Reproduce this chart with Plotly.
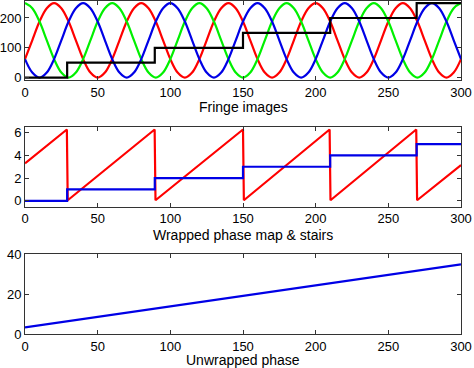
import plotly.graph_objects as go

# ---------------- data ----------------
x_samples = list(range(0, 301, 5))
fringe_red = [62,125,188,233,250,233,188,125,62,17,0,17,
              62,125,188,233,250,233,188,125,62,17,0,17,
              62,125,188,233,250,233,188,125,62,17,0,17,
              62,125,188,233,250,233,188,125,62,17,0,17,
              62,125,188,233,250,233,188,125,62,17,0,17,
              62]
fringe_green = [250,233,188,125,62,17,0,17,62,125,188,233,
                250,233,188,125,62,17,0,17,62,125,188,233,
                250,233,188,125,62,17,0,17,62,125,188,233,
                250,233,188,125,62,17,0,17,62,125,188,233,
                250,233,188,125,62,17,0,17,62,125,188,233,
                250]
fringe_blue = [62,17,0,17,62,125,188,233,250,233,188,125,
               62,17,0,17,62,125,188,233,250,233,188,125,
               62,17,0,17,62,125,188,233,250,233,188,125,
               62,17,0,17,62,125,188,233,250,233,188,125,
               62,17,0,17,62,125,188,233,250,233,188,125,
               62]

stair_x = [0, 29, 89.3, 150, 210, 269.5, 300]
stair_gray = [0, 50, 100, 150, 200, 250, 250]
stair_index = [0, 1, 2, 3, 4, 5, 5]

wrap_x = [0, 28.8, 29.4, 89.2, 89.8, 150, 150.6, 209.6, 210.2, 269.2, 269.8, 300]
wrap_y = [3.3, 6.28, 0.05, 6.28, 0.05, 6.28, 0.05, 6.28, 0.05, 6.28, 0.05, 3.15]

unwrap_x = [0, 300]
unwrap_y = [3.3, 34.8]

x_ticks = [0, 50, 100, 150, 200, 250, 300]
titles = ["Fringe images", "Wrapped phase map & stairs", "Unwrapped phase"]

# ---------------- figure ----------------
RED, GREEN, BLUE, BLACK = "#ff0000", "#00f000", "#0000e6", "#000000"
LW = 2.2
fig = go.Figure()

fig.add_trace(go.Scatter(x=x_samples, y=fringe_red, mode="lines", line=dict(color=RED, width=LW, shape="spline"), xaxis="x", yaxis="y"))
fig.add_trace(go.Scatter(x=x_samples, y=fringe_green, mode="lines", line=dict(color=GREEN, width=LW, shape="spline"), xaxis="x", yaxis="y"))
fig.add_trace(go.Scatter(x=x_samples, y=fringe_blue, mode="lines", line=dict(color=BLUE, width=LW, shape="spline"), xaxis="x", yaxis="y"))
fig.add_trace(go.Scatter(x=stair_x, y=stair_gray, mode="lines", line=dict(color=BLACK, width=LW, shape="hv"), xaxis="x", yaxis="y"))

fig.add_trace(go.Scatter(x=wrap_x, y=wrap_y, mode="lines", line=dict(color=RED, width=LW), xaxis="x2", yaxis="y2"))
fig.add_trace(go.Scatter(x=stair_x, y=stair_index, mode="lines", line=dict(color=BLUE, width=LW, shape="hv"), xaxis="x2", yaxis="y2"))

fig.add_trace(go.Scatter(x=unwrap_x, y=unwrap_y, mode="lines", line=dict(color=BLUE, width=LW), xaxis="x3", yaxis="y3"))

TITLE_FONT = dict(family="Liberation Sans, Arial, sans-serif", size=14, color="#000000")
TICK_FONT = dict(family="Liberation Sans, Arial, sans-serif", size=13, color="#000000")
axis_common = dict(showgrid=False, zeroline=False, showline=True, linecolor="#333333", linewidth=1,
                   mirror="ticks", ticks="inside", ticklen=4, tickcolor="#333333", tickfont=TICK_FONT,
                   automargin=False)

H_PLOT = 333.0
def pdom(top_px, bot_px):
    # pixel rows (from top of window) -> paper fraction; plot area spans py 1..334
    return [(334 - bot_px) / H_PLOT, (334 - top_px) / H_PLOT]

fig.update_layout(
    width=474, height=368,
    margin=dict(l=25, r=13, t=1, b=34, autoexpand=False),
    paper_bgcolor="white", plot_bgcolor="white",
    showlegend=False,
    xaxis=dict(domain=[0, 1], range=[0, 300], tickvals=x_ticks, anchor="y", **axis_common),
    yaxis=dict(domain=pdom(1, 80), range=[-8, 257], tickvals=[0, 100, 200], anchor="x", **axis_common),
    xaxis2=dict(domain=[0, 1], range=[0, 300], tickvals=x_ticks, anchor="y2", **axis_common),
    yaxis2=dict(domain=pdom(127, 206.5), range=[-0.5, 6.5], tickvals=[0, 2, 4, 6], anchor="x2", **axis_common),
    xaxis3=dict(domain=[0, 1], range=[0, 300], tickvals=x_ticks, anchor="y3", **axis_common),
    yaxis3=dict(domain=pdom(254, 334), range=[0, 40], tickvals=[0, 20, 40], anchor="x3", **axis_common),
)

for title, py in zip(titles, [107, 235, 360]):
    fig.add_annotation(text=title, xref="paper", yref="paper", x=0.5, y=(334 - py) / H_PLOT,
                       xanchor="center", yanchor="middle", showarrow=False, font=TITLE_FONT)

fig.write_html("out.html", config={"displayModeBar": False},
               post_script="document.body.style.margin='0px';document.body.style.overflow='hidden';")
